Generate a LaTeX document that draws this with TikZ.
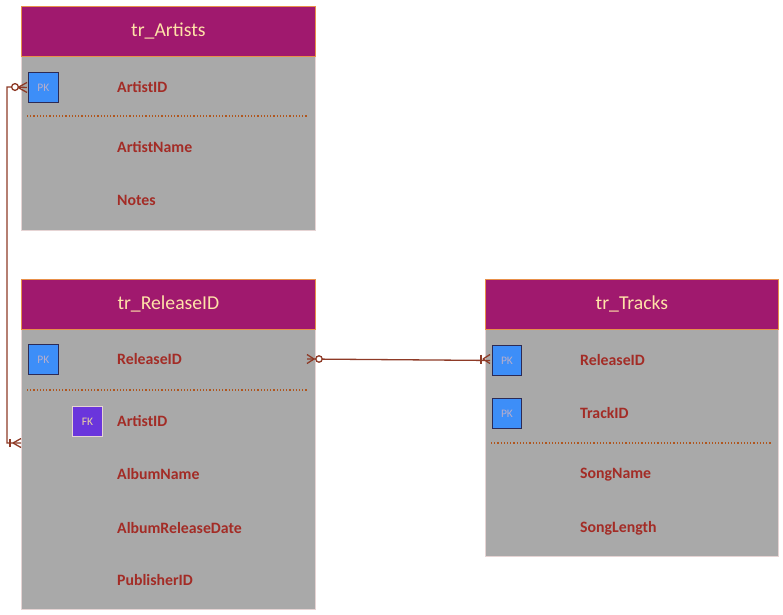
\documentclass[tikz,border=0pt]{standalone}
\usepackage{fontspec}
\setmainfont{Carlito}
\definecolor{hdrfill}{HTML}{A0196E}
\definecolor{hdrline}{HTML}{E8904A}
\definecolor{bodyfill}{HTML}{A9A9A9}
\definecolor{bodyline}{HTML}{E6D4D4}
\definecolor{rowtext}{HTML}{A32C26}
\definecolor{hdrtext}{HTML}{FFE2A8}
\definecolor{sepline}{HTML}{B0561E}
\definecolor{pkfill}{HTML}{3D8EF8}
\definecolor{fkfill}{HTML}{6A35DC}
\definecolor{keyline}{HTML}{2C2A55}
\definecolor{keytext}{HTML}{B8AECB}
\definecolor{relcol}{HTML}{8E3A26}
\begin{document}
\begin{tikzpicture}[x=1pt,y=-1pt,
  hdr/.style={draw=hdrline,line width=0.8pt,fill=hdrfill,anchor=north west,inner sep=0pt,
    text=hdrtext,font=\fontsize{19.7}{21}\selectfont},
  tbody/.style={draw=bodyline,line width=0.6pt,fill=bodyfill,anchor=north west,inner sep=0pt},
  rowlbl/.style={anchor=west,inner sep=0pt,text=rowtext,font=\bfseries\fontsize{15.8}{17}\selectfont},
  keybox/.style={draw=keyline,line width=0.9pt,anchor=north west,inner sep=0pt,
    minimum width=30,minimum height=30,text=keytext,font=\fontsize{11.5}{12}\selectfont},
  pkbox/.style={keybox,fill=pkfill},
  fkbox/.style={keybox,fill=fkfill,draw=bodyline,text=hdrtext!85!gray},
  sep/.style={draw=sepline,line width=1.2pt,dotted},
  rel/.style={draw=relcol,line width=1.3pt}
]
\useasboundingbox (0,0) rectangle (783,614);

% ---- tr_Artists
\node[tbody,minimum width=294,minimum height=174] (artB) at (21,56) {};
\node[hdr,minimum width=294,minimum height=50] (artH) at (21,6) {tr\_Artists};
\node[pkbox] (artPK) at (28,72) {PK};
\node[rowlbl] (artR1) at (117,87) {ArtistID};
\draw[sep] (27,116) -- (307,116);
\node[rowlbl] (artR2) at (117,147) {ArtistName};
\node[rowlbl] (artR3) at (117,200) {Notes};

% ---- tr_ReleaseID
\node[tbody,minimum width=294,minimum height=280] (relB) at (21,329) {};
\node[hdr,minimum width=294,minimum height=50] (relH) at (21,279) {tr\_ReleaseID};
\node[pkbox] (relPK) at (28,344) {PK};
\node[rowlbl] (relR1) at (117,359) {ReleaseID};
\draw[sep] (27,390) -- (307,390);
\node[fkbox] (relFK) at (72,406) {FK};
\node[rowlbl] (relR2) at (117,421) {ArtistID};
\node[rowlbl] (relR3) at (117,474) {AlbumName};
\node[rowlbl] (relR4) at (117,528) {AlbumReleaseDate};
\node[rowlbl] (relR5) at (117,580) {PublisherID};

% ---- tr_Tracks
\node[tbody,minimum width=293,minimum height=227] (trkB) at (485,329) {};
\node[hdr,minimum width=293,minimum height=50] (trkH) at (485,279) {tr\_Tracks};
\node[pkbox,minimum width=29] (trkPK1) at (492,345) {PK};
\node[rowlbl] (trkR1) at (580,360) {ReleaseID};
\node[pkbox,minimum width=29] (trkPK2) at (492,398) {PK};
\node[rowlbl] (trkR2) at (580,413) {TrackID};
\draw[sep] (491,443) -- (771,443);
\node[rowlbl] (trkR3) at (580,475) {SongName};
\node[rowlbl] (trkR4) at (580,528) {SongLength};

% ---- relationship 1: tr_Artists.ArtistID -- tr_ReleaseID.ArtistID
\coordinate (a1) at ([xshift=-1pt]artPK.west);
\coordinate (a1end) at (21,443);
\draw[rel] (a1) -- (7,87) |- (a1end);
\draw[rel,fill=white] (15,87) circle (3.4);
\draw[rel] (a1) ++(-9,0) coordinate (a1apex) -- ++(9,-5);
\draw[rel] (a1apex) -- ++(9,5);
\draw[rel] (10,439) -- (10,447);
\draw[rel] (13,443) -- (a1end |- 0,438.5);
\draw[rel] (13,443) -- (a1end |- 0,447.5);

% ---- relationship 2: tr_ReleaseID.ReleaseID -- tr_Tracks.ReleaseID
\coordinate (b1) at (307,359);
\coordinate (b2) at ([xshift=-2pt]trkPK1.west);
\draw[rel] (b1) -- (b2);
\draw[rel] (314,359) -- (307,354.5);
\draw[rel] (314,359) -- (307,363.5);
\draw[rel,fill=white] (319,359) circle (3.2);
\draw[rel] (481,354.5) -- (481,363.5);
\draw[rel] (483,359) -- (b2 |- 0,354.5);
\draw[rel] (483,359) -- (b2 |- 0,363.5);
\end{tikzpicture}
\end{document}
